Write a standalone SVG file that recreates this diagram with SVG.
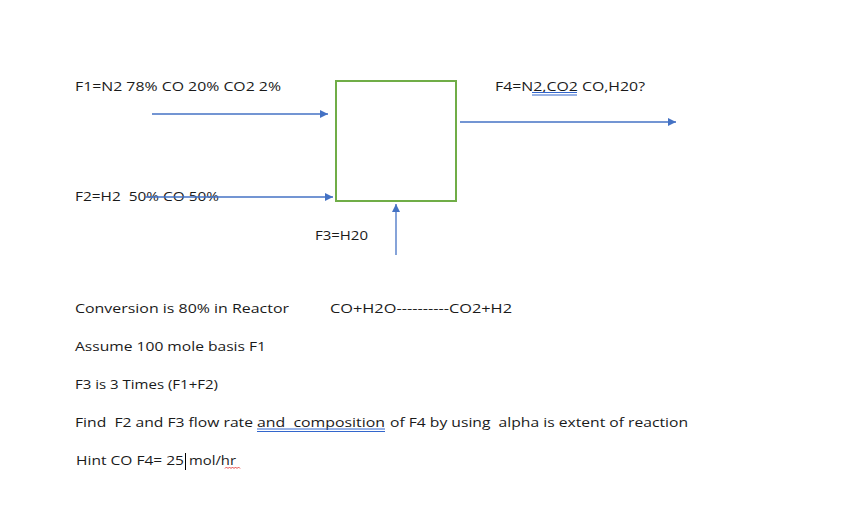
<svg xmlns="http://www.w3.org/2000/svg" width="857" height="518" viewBox="0 0 857 518">
<style>
text{font-family:"Open Sans","Liberation Sans",sans-serif;font-size:13.5px;fill:#1a1a1a;white-space:pre}
.ln{stroke:#4472C4;stroke-width:1.3;fill:none}
.ul{stroke:#3366cc;stroke-width:1;fill:none}
</style>
<defs>
<marker id="ah" viewBox="0 0 10 10" refX="10" refY="5" markerWidth="8" markerHeight="8" markerUnits="userSpaceOnUse" orient="auto">
<path d="M0,0L10,5L0,10z" fill="#4472C4"/>
</marker>
</defs>
<rect width="857" height="518" fill="#fff"/>
<g id="reactor"><rect x="336" y="81" width="120" height="120" fill="none" stroke="#70AD47" stroke-width="2"/></g>
<g id="labels">
<text x="75" y="91" textLength="206" lengthAdjust="spacingAndGlyphs">F1=N2 78% CO 20% CO2 2%</text>
<text x="495" y="91" textLength="150" lengthAdjust="spacingAndGlyphs">F4=N2,CO2 CO,H20?</text>
<path class="ul" d="M532 92.5H577M532 95H577"/>
<text x="75" y="201" textLength="144" lengthAdjust="spacingAndGlyphs">F2=H2  50% CO 50%</text>
<text x="315" y="240" textLength="53" lengthAdjust="spacingAndGlyphs">F3=H20</text>
<text x="75" y="313" textLength="214" lengthAdjust="spacingAndGlyphs">Conversion is 80% in Reactor</text>
<text x="330" y="313" textLength="182" lengthAdjust="spacingAndGlyphs">CO+H2O----------CO2+H2</text>
<text x="75" y="351" textLength="191" lengthAdjust="spacingAndGlyphs">Assume 100 mole basis F1</text>
<text x="75" y="389" textLength="143" lengthAdjust="spacingAndGlyphs">F3 is 3 Times (F1+F2)</text>
<text x="75" y="427" textLength="178" lengthAdjust="spacingAndGlyphs">Find  F2 and F3 flow rate</text>
<text x="257" y="427" textLength="128" lengthAdjust="spacingAndGlyphs">and  composition</text>
<text x="390" y="427" textLength="298" lengthAdjust="spacingAndGlyphs">of F4 by using  alpha is extent of reaction</text>
<path class="ul" d="M257 429H385M257 431.5H385"/>
<text x="76" y="465" textLength="108" lengthAdjust="spacingAndGlyphs">Hint CO F4= 25</text>
<text x="189" y="465" textLength="47" lengthAdjust="spacingAndGlyphs">mol/hr</text>
<path d="M185.5 453V470" stroke="#000" stroke-width="1"/>
<path d="M225 468.5l1.5 -1.5l1.5 1.5l1.5 -1.5l1.5 1.5l1.5 -1.5l1.5 1.5l1.5 -1.5l1.5 1.5l1.5 -1.5l1.5 1.5" stroke="#e02020" stroke-width="0.8" fill="none"/>
</g>
<g id="connectors">
<path class="ln" d="M152 114H328" marker-end="url(#ah)"/>
<path class="ln" d="M145 197H333" marker-end="url(#ah)"/>
<path class="ln" d="M396 255V204" marker-end="url(#ah)"/>
<path class="ln" d="M460 122H676" marker-end="url(#ah)"/>
</g>
</svg>
